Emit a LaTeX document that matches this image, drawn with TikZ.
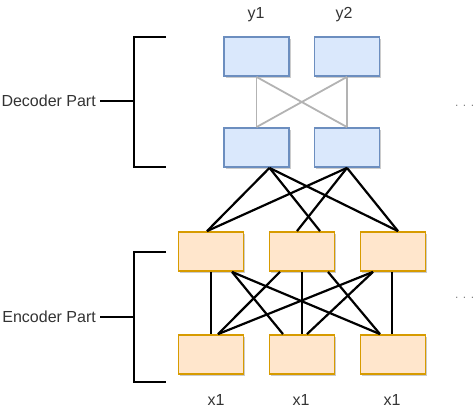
\documentclass[tikz,border=0pt]{standalone}
\usepackage{fontspec}
\setmainfont{Liberation Sans}
\usetikzlibrary{shadows}
\definecolor{decfill}{HTML}{DAE8FC}
\definecolor{decline}{HTML}{6C8EBF}
\definecolor{encfill}{HTML}{FFE6CC}
\definecolor{encline}{HTML}{D79B00}
\definecolor{txtgray}{HTML}{333333}
\definecolor{crossgray}{HTML}{B3B3B3}

\begin{document}
\begin{tikzpicture}[x=1pt,y=-1pt,
  box/.style={draw,line width=1.8pt,minimum width=65pt,minimum height=39pt,inner sep=0pt,
    drop shadow={shadow xshift=1.5pt,shadow yshift=-1.5pt,opacity=0.2,fill=black}},
  decbox/.style={box,fill=decfill,draw=decline},
  encbox/.style={box,fill=encfill,draw=encline},
  lbl/.style={font=\fontsize{16}{19}\selectfont,text=txtgray,inner sep=0pt},
  link/.style={black,line width=2.2pt},
  glink/.style={crossgray,line width=1.8pt},
  brace/.style={black,line width=2.6pt}]

\useasboundingbox (0,0) rectangle (474,413);

% decoder
\node[decbox] (y1box) at (256.5,56.5) {};
\node[decbox] (y2box) at (347,56.5) {};
\node[decbox] (d1) at (256.5,147.5) {};
\node[decbox] (d2) at (347,147.5) {};
\node[lbl] (y1) at (256,15) {y1};
\node[lbl] (y2) at (344,15) {y2};

\draw[glink] (y1box.south) -- (d1.north);
\draw[glink] (y1box.south) -- (d2.north);
\draw[glink] (y2box.south) -- (d1.north);
\draw[glink] (y2box.south) -- (d2.north);

% encoder
\node[encbox] (e1) at (211,251.5) {};
\node[encbox] (e2) at (302,251.5) {};
\node[encbox] (e3) at (393,251.5) {};
\node[encbox] (b1) at (211,354.5) {};
\node[encbox] (b2) at (302,354.5) {};
\node[encbox] (b3) at (393,354.5) {};
\node[lbl] (x1a) at (216,400) {x1};
\node[lbl] (x1b) at (301,400) {x1};
\node[lbl] (x1c) at (392,400) {x1};

% decoder to encoder
\draw[link] ([xshift=13]d1.south) -- ([xshift=-4]e1.north);
\draw[link] ([xshift=13]d1.south) -- ([xshift=18]e2.north);
\draw[link] ([xshift=13]d1.south) -- ([xshift=5]e3.north);
\draw[link] (d2.south) -- ([xshift=-4]e1.north);
\draw[link] (d2.south) -- ([xshift=-5]e2.north);
\draw[link] (d2.south) -- ([xshift=5]e3.north);

% encoder inside
\draw[link] (e1.south) -- (b1.north);
\draw[link] ([xshift=21]e1.south) -- ([xshift=-19]b2.north);
\draw[link] ([xshift=21]e1.south) -- ([xshift=-13]b3.north);
\draw[link] ([xshift=-22]e2.south) -- ([xshift=7]b1.north);
\draw[link] (e2.south) -- (b2.north);
\draw[link] ([xshift=26]e2.south) -- ([xshift=-13]b3.north);
\draw[link] ([xshift=-20]e3.south) -- ([xshift=7]b1.north);
\draw[link] ([xshift=-20]e3.south) -- ([xshift=5]b2.north);
\draw[link] ([xshift=-1]e3.south) -- ([xshift=-1]b3.north);

% brackets
\coordinate (dtop) at (166,37);
\coordinate (dbot) at (166,167);
\coordinate (dmid) at (134,101);
\draw[brace] (dtop) -| (dmid) |- (dbot);
\node[lbl,anchor=east] (dec) at (96,101) {Decoder Part};
\draw[brace] (dec.east) ++(4,0) coordinate (dtick) -- (dmid);

\coordinate (etop) at (166,252);
\coordinate (ebot) at (166,382);
\coordinate (emid) at (134,317);
\draw[brace] (etop) -| (emid) |- (ebot);
\node[lbl,anchor=east] (enc) at (96,317) {Encoder Part};
\draw[brace] (enc.east) ++(4,0) coordinate (etick) -- (emid);

% dots
\node[font=\fontsize{12}{14}\selectfont,text=gray,anchor=west,inner sep=0pt] (ddots) at (455,106) {. . .};
\node[font=\fontsize{12}{14}\selectfont,text=gray,anchor=west,inner sep=0pt] (edots) at (455,298) {. . .};

\end{tikzpicture}
\end{document}
